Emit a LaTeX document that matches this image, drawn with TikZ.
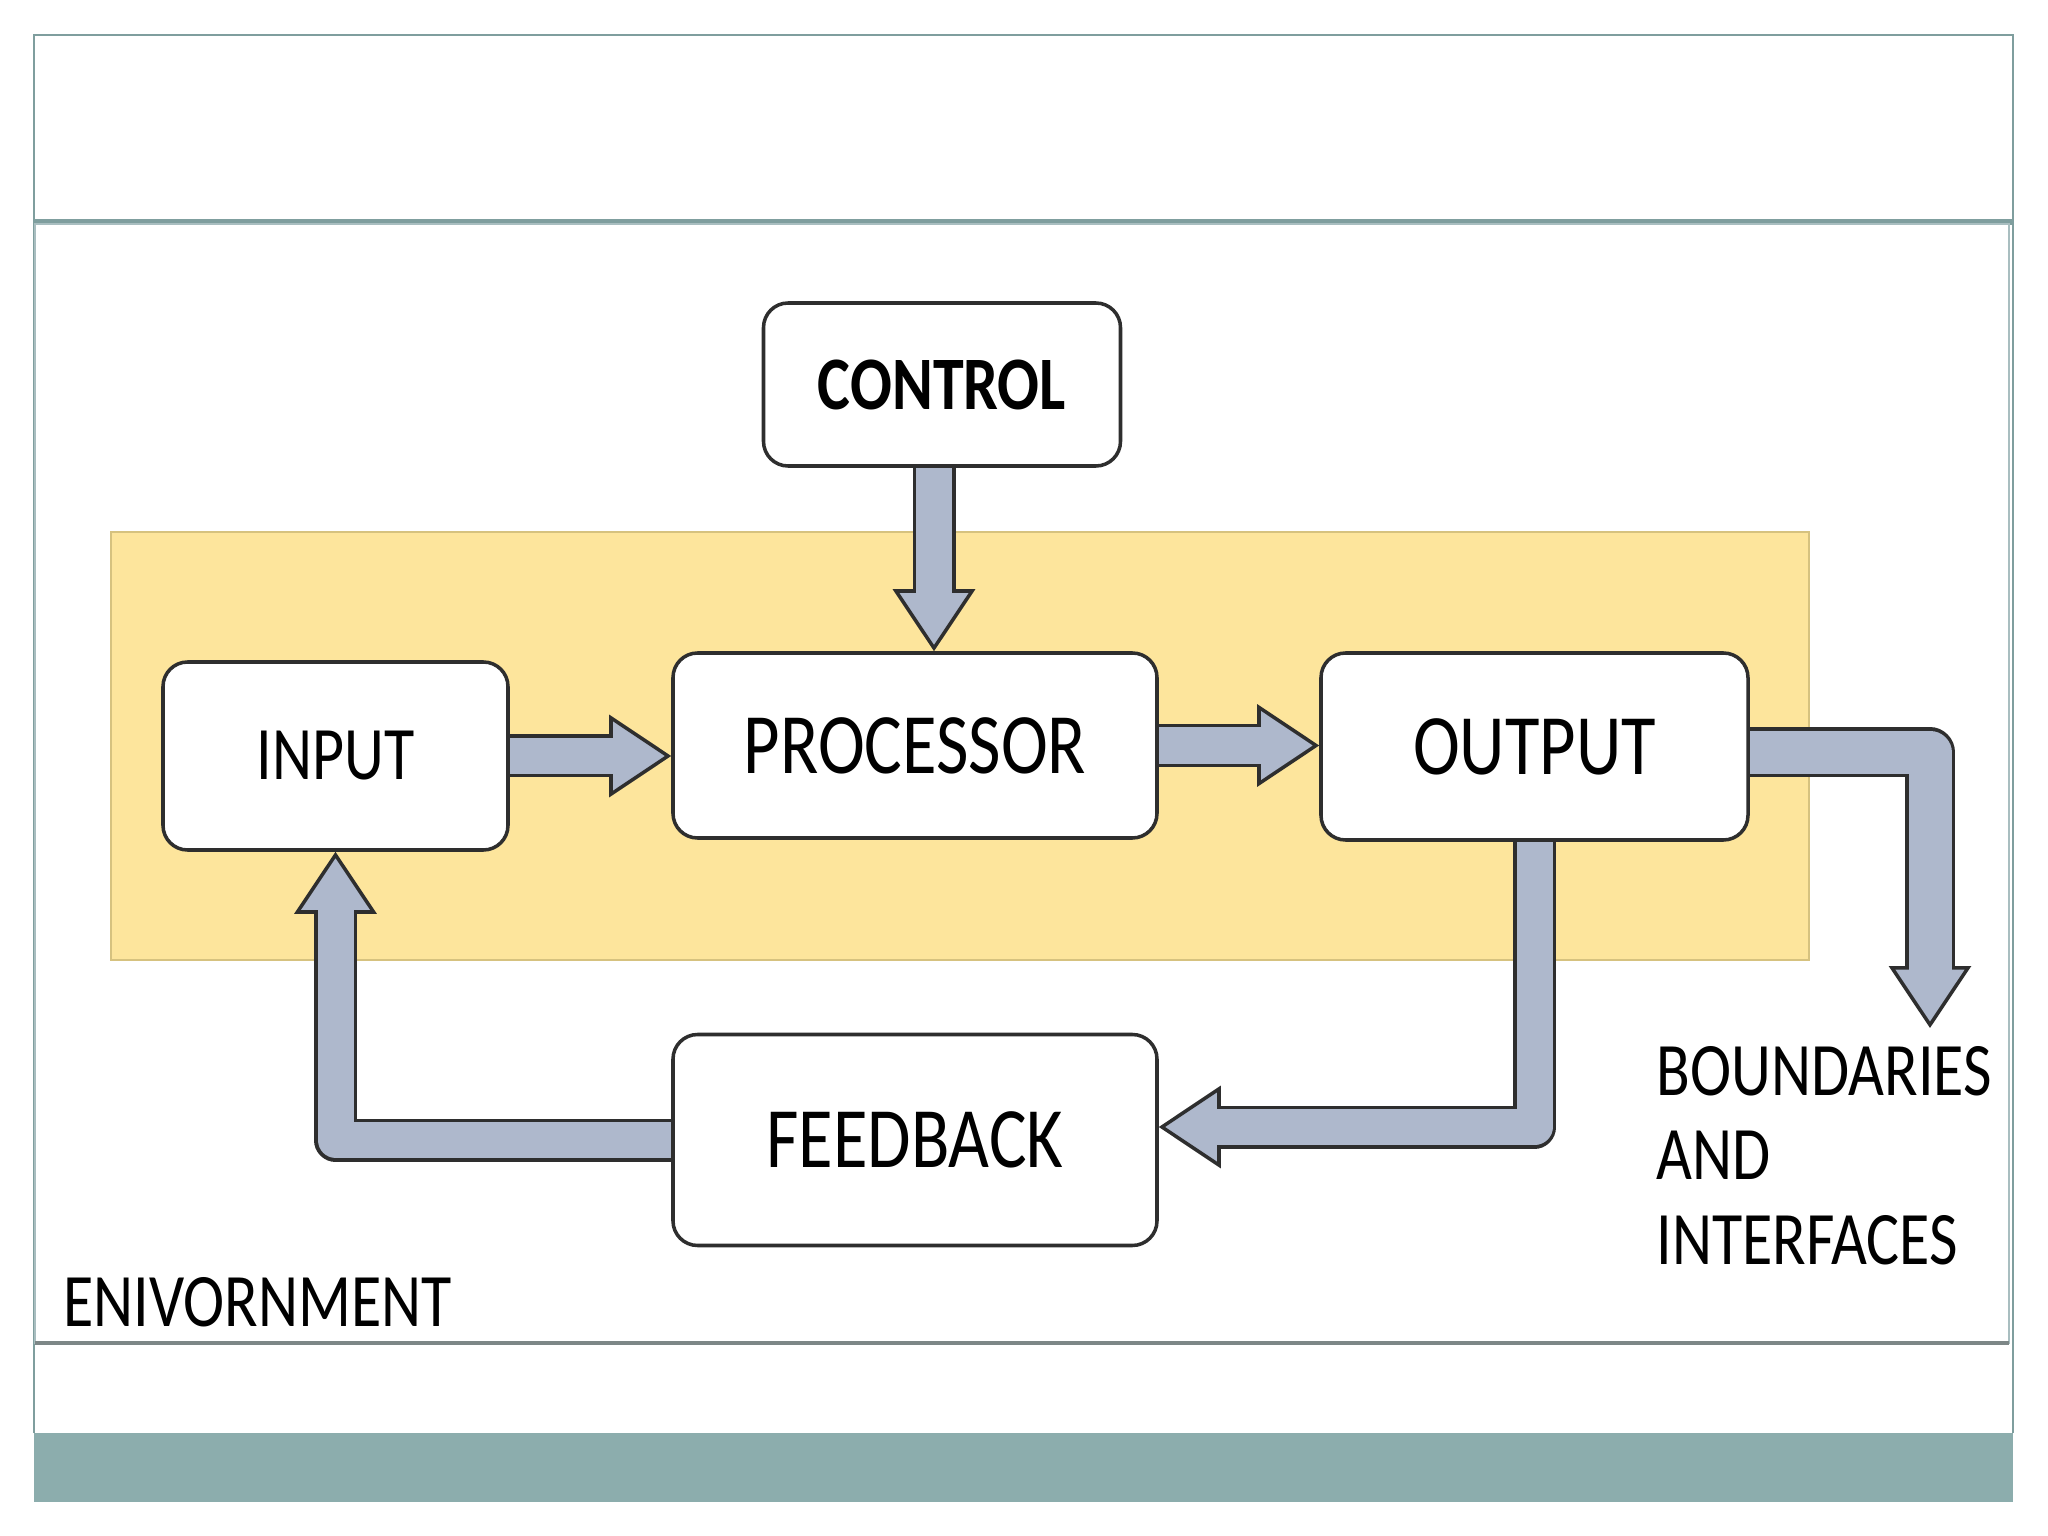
\documentclass[tikz,border=0pt]{standalone}
\usepackage{fontspec}
\setmainfont{Carlito}[FakeStretch=0.82]
\usetikzlibrary{arrows.meta,backgrounds}
\definecolor{ink}{HTML}{2E2E2E}
\definecolor{frame}{HTML}{7F9E9E}
\definecolor{band}{HTML}{8CADAD}
\definecolor{panel}{HTML}{A9BEC0}
\definecolor{panelfoot}{HTML}{7D8787}
\definecolor{env}{HTML}{FDE59C}
\definecolor{envline}{HTML}{D6C27F}
\definecolor{flow}{HTML}{AEB8CC}
\tikzset{
  box/.style={draw=ink, line width=1pt, rounded corners=7pt, fill=white, align=center, inner sep=0pt, text=black},
  unit/.style={box, font=\fontsize{24.5}{28}\selectfont},
  ctrl/.style={box, font=\fontsize{21.5}{25}\selectfont\bfseries},
  pipe/.style={draw=flow, line width=#1, shorten >=5.4mm, line join=round,
    preaction={draw=ink, line width=#1+0.7mm, line join=round, shorten >=0pt, -{Triangle[length=6.2mm, width=8.2mm, fill=flow, line width'=1pt]}}},
  pipe/.default=3.6mm,
  note/.style={font=\fontsize{21.5}{24}\selectfont, text=black, inner sep=0pt, align=left},
}
\begin{document}
\begin{tikzpicture}
\useasboundingbox (0,0) rectangle (20.48,-15.36);
% --- slide frame and environment
\begin{scope}[on background layer]
\fill[white] (0,0) rectangle (20.48,-15.36);
\fill[band] (0.34,-14.33) rectangle (20.13,-15.02);
\draw[frame, line width=0.8pt] (0.34,-14.33) -- (0.34,-0.35) -- (20.13,-0.35) -- (20.13,-14.33);
\draw[frame, line width=1.6pt] (0.34,-2.22) -- (20.13,-2.22);
\draw[panel, line width=0.8pt] (0.35,-2.24) rectangle (20.09,-13.43);
\draw[panelfoot, line width=1.2pt] (0.35,-13.43) -- (20.09,-13.43);
\filldraw[fill=env, draw=envline, line width=0.6pt] (1.11,-5.32) rectangle (18.09,-9.60);
\end{scope}
% --- blocks (absolute coordinates, cm)
\node[ctrl, minimum width=3.57cm, minimum height=1.63cm] (ctl) at (9.42,-3.845) {CONTROL};
\node[unit, minimum width=3.45cm, minimum height=1.88cm, font=\fontsize{21.5}{25}\selectfont] (inp) at (3.355,-7.56) {INPUT};
\node[unit, minimum width=4.84cm, minimum height=1.85cm] (proc) at (9.15,-7.455) {PROCESSOR};
\node[unit, minimum width=4.27cm, minimum height=1.87cm] (out) at (15.345,-7.465) {OUTPUT};
\node[unit, minimum width=4.84cm, minimum height=2.11cm] (fb) at (9.15,-11.40) {FEEDBACK};
\coordinate (exit) at (19.30,-10.28);
% --- labels (base = last line)
\node[note, anchor=base west] (envlabel) at (0.63,-13.26) {ENIVORNMENT};
\node[note, anchor=base west] (bndlabel) at (16.56,-12.64) {BOUNDARIES\\AND\\INTERFACES};
% --- block arrows, under the boxes
\begin{scope}[on background layer]
\draw[pipe] ([xshift=-0.8mm]ctl.south) -- ([xshift=-0.8mm]ctl.south |- proc.north);
\draw[pipe] (inp.east) -- (inp.east -| proc.west);
\draw[pipe] (proc.east) -- (proc.east -| out.west);
\draw[pipe=4.3mm] ([yshift=-0.6mm]out.east) -| (exit);
\draw[pipe] (out.south) |- ([yshift=1.3mm]fb.east);
\draw[pipe] (fb.west) -| (inp.south);
\end{scope}
\end{tikzpicture}
\end{document}
